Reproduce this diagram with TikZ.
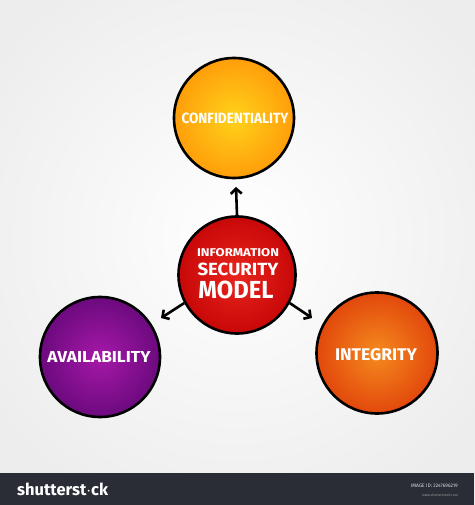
\documentclass[tikz,border=0pt]{standalone}
\usepackage{fontspec}
\setmainfont{Fira Sans}
\usetikzlibrary{arrows.meta}
\definecolor{bardark}{HTML}{2A2D36}
\definecolor{confin}{HTML}{FFD21A}
\definecolor{confout}{HTML}{FF9E0A}
\definecolor{redin}{HTML}{E8261E}
\definecolor{redout}{HTML}{C80808}
\definecolor{purin}{HTML}{A618A8}
\definecolor{purout}{HTML}{6C0A7E}
\definecolor{intin}{HTML}{F58A1E}
\definecolor{intout}{HTML}{E2480C}
\tikzset{
  bubble/.style={circle, draw=black, line width=2.6pt, minimum size=#1, inner sep=0pt},
  label/.style={text=white, font=\bfseries, inner sep=0pt},
  conn/.style={line width=2.6pt, -{Straight Barb[length=5pt,width=11pt,line width=2.6pt]}}
}
\begin{document}
\begin{tikzpicture}[x=1pt,y=-1pt]
\useasboundingbox (0,0) rectangle (474,505);
\shade[inner color=white, outer color=black!7] (-60,-60) rectangle (534,533);
\fill[bardark] (0,473) rectangle (474,505);

\node[bubble=120pt, inner color=confin, outer color=confout] (conf) at (234,118) {};
\node[bubble=117pt, inner color=redin, outer color=redout] (isec) at (237,275) {};
\node[bubble=120pt, inner color=purin, outer color=purout] (avail) at (100,357) {};
\node[bubble=121pt, inner color=intin, outer color=intout] (integ) at (377,353) {};

\node[label] (tconf) at (235,118) {\resizebox{107pt}{10.5pt}{CONFIDENTIALITY}};
\node[label] (tinfo) at (238,253) {\resizebox{82pt}{8pt}{INFORMATION}};
\node[label] (tsec) at (238,269.5) {\resizebox{81pt}{12.5pt}{SECURITY}};
\node[label] (tmod) at (236,289.5) {\resizebox{75pt}{17.5pt}{MODEL}};
\node[label] (tavail) at (99,357) {\resizebox{103pt}{11pt}{AVAILABILITY}};
\node[label] (tinteg) at (376,355) {\resizebox{82pt}{12pt}{INTEGRITY}};

\coordinate (aup) at (236,187);
\coordinate (aleft) at (161,318);
\coordinate (aright) at (312,318);
\draw[conn] (isec.90) -- (aup);
\draw[conn] (isec.208) -- (aleft);
\draw[conn] (isec.332) -- (aright);

\node[text=white, font=\fontsize{16.5}{18}\selectfont\bfseries, anchor=west, inner sep=0pt] (brand) at (17,489) {shutterst\raisebox{0pt}{$\cdot$}ck};
\node[text=white!85!black, font=\fontsize{5}{6}\selectfont, anchor=east, inner sep=0pt] (imgid) at (458,486) {IMAGE ID: 2247696219};
\node[text=white!60!black, font=\fontsize{3.5}{4}\selectfont, anchor=east, inner sep=0pt] (www) at (458,495) {www.shutterstock.com};
\end{tikzpicture}
\end{document}
